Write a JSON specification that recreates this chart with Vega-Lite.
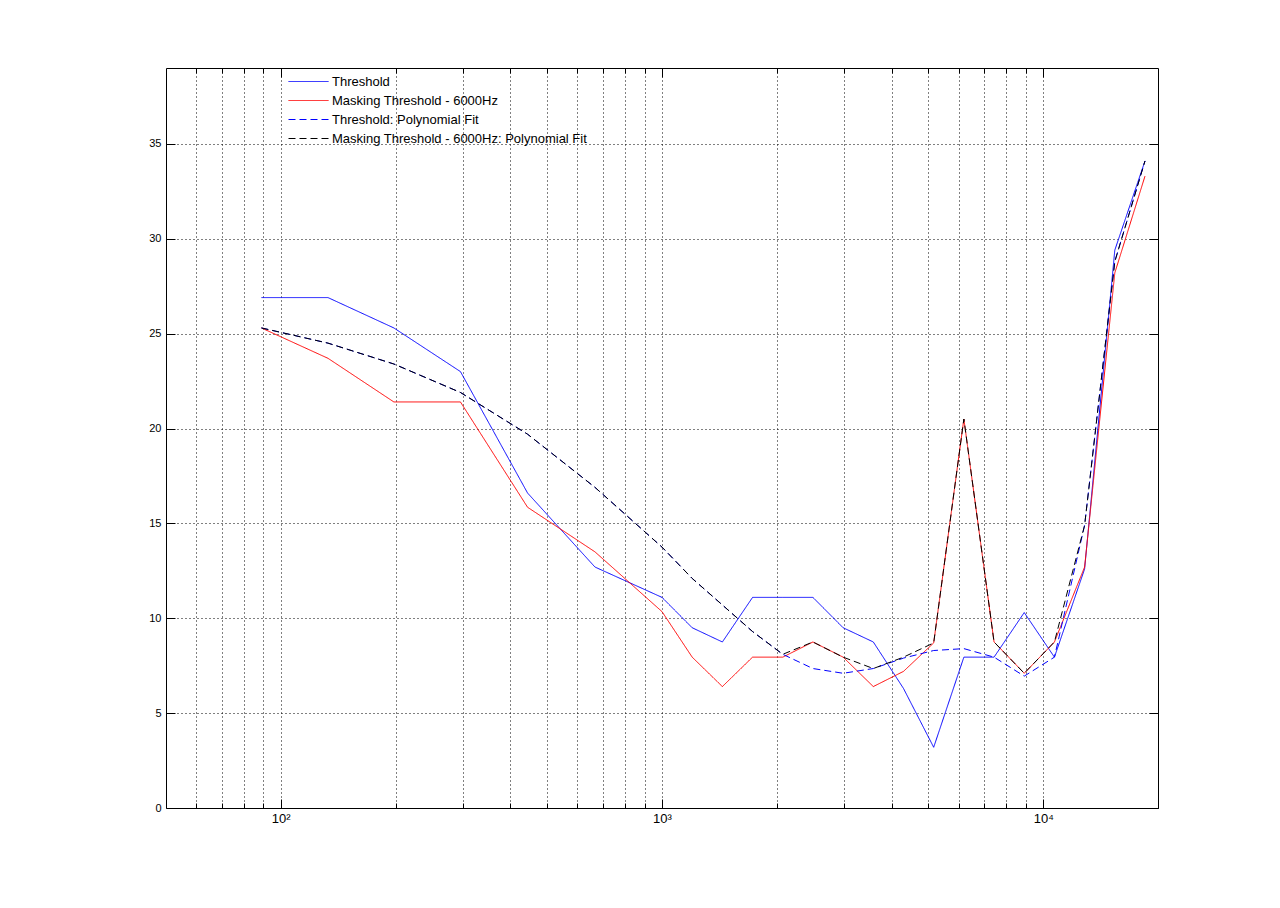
{
  "$schema": "https://vega.github.io/schema/vega-lite/v6.json",
  "width": 992,
  "height": 740,
  "autosize": {"type": "none"},
  "padding": {"left": 166, "top": 68, "right": 122, "bottom": 100},
  "background": "white",
  "config": {
    "view": {"stroke": "black", "strokeWidth": 1},
    "font": "Liberation Sans",
    "axis": {
      "domain": false,
      "labelFont": "Liberation Sans",
      "labelFontSize": 11,
      "labelColor": "black",
      "tickColor": "black",
      "tickWidth": 1,
      "gridColor": "black",
      "gridDash": [1, 3],
      "gridOpacity": 1,
      "title": null
    }
  },
  "data": {
    "values": [
      {"freq": 89, "series": "Threshold", "value": 26.9},
      {"freq": 133, "series": "Threshold", "value": 26.9},
      {"freq": 198, "series": "Threshold", "value": 25.3},
      {"freq": 296, "series": "Threshold", "value": 23.0},
      {"freq": 444, "series": "Threshold", "value": 16.6},
      {"freq": 667, "series": "Threshold", "value": 12.7},
      {"freq": 1000, "series": "Threshold", "value": 11.1},
      {"freq": 1200, "series": "Threshold", "value": 9.5},
      {"freq": 1440, "series": "Threshold", "value": 8.75},
      {"freq": 1728, "series": "Threshold", "value": 11.1},
      {"freq": 2074, "series": "Threshold", "value": 11.1},
      {"freq": 2488, "series": "Threshold", "value": 11.1},
      {"freq": 2986, "series": "Threshold", "value": 9.5},
      {"freq": 3583, "series": "Threshold", "value": 8.75},
      {"freq": 4300, "series": "Threshold", "value": 6.3},
      {"freq": 5160, "series": "Threshold", "value": 3.2},
      {"freq": 6192, "series": "Threshold", "value": 7.95},
      {"freq": 7430, "series": "Threshold", "value": 7.95},
      {"freq": 8916, "series": "Threshold", "value": 10.3},
      {"freq": 10699, "series": "Threshold", "value": 7.95},
      {"freq": 12839, "series": "Threshold", "value": 12.6},
      {"freq": 15407, "series": "Threshold", "value": 29.4},
      {"freq": 18488, "series": "Threshold", "value": 34.1},

      {"freq": 89, "series": "Masking Threshold - 6000Hz", "value": 25.3},
      {"freq": 133, "series": "Masking Threshold - 6000Hz", "value": 23.7},
      {"freq": 198, "series": "Masking Threshold - 6000Hz", "value": 21.4},
      {"freq": 296, "series": "Masking Threshold - 6000Hz", "value": 21.4},
      {"freq": 444, "series": "Masking Threshold - 6000Hz", "value": 15.85},
      {"freq": 667, "series": "Masking Threshold - 6000Hz", "value": 13.5},
      {"freq": 1000, "series": "Masking Threshold - 6000Hz", "value": 10.35},
      {"freq": 1200, "series": "Masking Threshold - 6000Hz", "value": 7.95},
      {"freq": 1440, "series": "Masking Threshold - 6000Hz", "value": 6.4},
      {"freq": 1728, "series": "Masking Threshold - 6000Hz", "value": 7.95},
      {"freq": 2074, "series": "Masking Threshold - 6000Hz", "value": 7.95},
      {"freq": 2488, "series": "Masking Threshold - 6000Hz", "value": 8.75},
      {"freq": 2986, "series": "Masking Threshold - 6000Hz", "value": 7.95},
      {"freq": 3583, "series": "Masking Threshold - 6000Hz", "value": 6.4},
      {"freq": 4300, "series": "Masking Threshold - 6000Hz", "value": 7.2},
      {"freq": 5160, "series": "Masking Threshold - 6000Hz", "value": 8.7},
      {"freq": 6192, "series": "Masking Threshold - 6000Hz", "value": 20.5},
      {"freq": 7430, "series": "Masking Threshold - 6000Hz", "value": 8.75},
      {"freq": 8916, "series": "Masking Threshold - 6000Hz", "value": 7.1},
      {"freq": 10699, "series": "Masking Threshold - 6000Hz", "value": 8.75},
      {"freq": 12839, "series": "Masking Threshold - 6000Hz", "value": 12.7},
      {"freq": 15407, "series": "Masking Threshold - 6000Hz", "value": 28.2},
      {"freq": 18488, "series": "Masking Threshold - 6000Hz", "value": 33.3},

      {"freq": 89, "series": "Threshold: Polynomial Fit", "value": 25.3},
      {"freq": 133, "series": "Threshold: Polynomial Fit", "value": 24.5},
      {"freq": 198, "series": "Threshold: Polynomial Fit", "value": 23.4},
      {"freq": 296, "series": "Threshold: Polynomial Fit", "value": 21.9},
      {"freq": 444, "series": "Threshold: Polynomial Fit", "value": 19.7},
      {"freq": 667, "series": "Threshold: Polynomial Fit", "value": 16.9},
      {"freq": 1000, "series": "Threshold: Polynomial Fit", "value": 13.75},
      {"freq": 1200, "series": "Threshold: Polynomial Fit", "value": 12.1},
      {"freq": 1440, "series": "Threshold: Polynomial Fit", "value": 10.7},
      {"freq": 1728, "series": "Threshold: Polynomial Fit", "value": 9.3},
      {"freq": 2074, "series": "Threshold: Polynomial Fit", "value": 8.1},
      {"freq": 2488, "series": "Threshold: Polynomial Fit", "value": 7.35},
      {"freq": 2986, "series": "Threshold: Polynomial Fit", "value": 7.1},
      {"freq": 3583, "series": "Threshold: Polynomial Fit", "value": 7.35},
      {"freq": 4300, "series": "Threshold: Polynomial Fit", "value": 7.9},
      {"freq": 5160, "series": "Threshold: Polynomial Fit", "value": 8.3},
      {"freq": 6192, "series": "Threshold: Polynomial Fit", "value": 8.4},
      {"freq": 7430, "series": "Threshold: Polynomial Fit", "value": 7.95},
      {"freq": 8916, "series": "Threshold: Polynomial Fit", "value": 6.95},
      {"freq": 10699, "series": "Threshold: Polynomial Fit", "value": 7.95},
      {"freq": 12839, "series": "Threshold: Polynomial Fit", "value": 14.9},
      {"freq": 15407, "series": "Threshold: Polynomial Fit", "value": 28.8},
      {"freq": 18488, "series": "Threshold: Polynomial Fit", "value": 34.1},

      {"freq": 89, "series": "Masking Threshold - 6000Hz: Polynomial Fit", "value": 25.3},
      {"freq": 133, "series": "Masking Threshold - 6000Hz: Polynomial Fit", "value": 24.5},
      {"freq": 198, "series": "Masking Threshold - 6000Hz: Polynomial Fit", "value": 23.4},
      {"freq": 296, "series": "Masking Threshold - 6000Hz: Polynomial Fit", "value": 21.9},
      {"freq": 444, "series": "Masking Threshold - 6000Hz: Polynomial Fit", "value": 19.7},
      {"freq": 667, "series": "Masking Threshold - 6000Hz: Polynomial Fit", "value": 16.9},
      {"freq": 1000, "series": "Masking Threshold - 6000Hz: Polynomial Fit", "value": 13.75},
      {"freq": 1200, "series": "Masking Threshold - 6000Hz: Polynomial Fit", "value": 12.1},
      {"freq": 1440, "series": "Masking Threshold - 6000Hz: Polynomial Fit", "value": 10.7},
      {"freq": 1728, "series": "Masking Threshold - 6000Hz: Polynomial Fit", "value": 9.3},
      {"freq": 2074, "series": "Masking Threshold - 6000Hz: Polynomial Fit", "value": 8.1},
      {"freq": 2488, "series": "Masking Threshold - 6000Hz: Polynomial Fit", "value": 8.75},
      {"freq": 2986, "series": "Masking Threshold - 6000Hz: Polynomial Fit", "value": 7.95},
      {"freq": 3583, "series": "Masking Threshold - 6000Hz: Polynomial Fit", "value": 7.35},
      {"freq": 4300, "series": "Masking Threshold - 6000Hz: Polynomial Fit", "value": 7.95},
      {"freq": 5160, "series": "Masking Threshold - 6000Hz: Polynomial Fit", "value": 8.7},
      {"freq": 6192, "series": "Masking Threshold - 6000Hz: Polynomial Fit", "value": 20.5},
      {"freq": 7430, "series": "Masking Threshold - 6000Hz: Polynomial Fit", "value": 8.75},
      {"freq": 8916, "series": "Masking Threshold - 6000Hz: Polynomial Fit", "value": 7.1},
      {"freq": 10699, "series": "Masking Threshold - 6000Hz: Polynomial Fit", "value": 8.75},
      {"freq": 12839, "series": "Masking Threshold - 6000Hz: Polynomial Fit", "value": 14.9},
      {"freq": 15407, "series": "Masking Threshold - 6000Hz: Polynomial Fit", "value": 28.8},
      {"freq": 18488, "series": "Masking Threshold - 6000Hz: Polynomial Fit", "value": 34.1}
    ]
  },
  "layer": [
    {
      "mark": {"type": "line", "strokeWidth": 1, "opacity": 0},
      "encoding": {
        "x": {
          "field": "freq", "type": "quantitative",
          "scale": {"type": "log", "domain": [50, 20000], "nice": false},
          "axis": {
            "orient": "bottom",
            "values": [60, 70, 80, 90, 100, 200, 300, 400, 500, 600, 700, 800, 900, 1000, 2000, 3000, 4000, 5000, 6000, 7000, 8000, 9000, 10000],
            "labels": false, "tickSize": -5, "grid": true
          }
        },
        "y": {
          "field": "value", "type": "quantitative",
          "scale": {"domain": [0, 39], "nice": false, "zero": false},
          "axis": {
            "orient": "right",
            "values": [0, 5, 10, 15, 20, 25, 30, 35],
            "labels": false, "tickSize": -9, "grid": true
          }
        }
      }
    },
    {
      "mark": {"type": "line", "strokeWidth": 1, "opacity": 0},
      "encoding": {
        "x": {
          "field": "freq", "type": "quantitative",
          "axis": {
            "orient": "top",
            "values": [60, 70, 80, 90, 200, 300, 400, 500, 600, 700, 800, 900, 2000, 3000, 4000, 5000, 6000, 7000, 8000, 9000],
            "labels": false, "tickSize": -5, "grid": false
          }
        },
        "y": {"field": "value", "type": "quantitative", "axis": null}
      }
    },
    {
      "mark": {"type": "line", "strokeWidth": 1, "opacity": 0},
      "encoding": {
        "x": {
          "field": "freq", "type": "quantitative",
          "axis": {
            "orient": "top",
            "values": [100, 1000, 10000],
            "labels": false, "tickSize": -9, "grid": false
          }
        },
        "y": {"field": "value", "type": "quantitative", "axis": null}
      }
    },
    {
      "mark": {"type": "line", "strokeWidth": 1},
      "encoding": {
        "x": {
          "field": "freq", "type": "quantitative",
          "axis": {
            "orient": "bottom",
            "values": [100, 1000, 10000],
            "tickSize": -9, "grid": false, "labelPadding": 13, "labelFontSize": 13,
            "labelExpr": "datum.value == 100 ? '10²' : datum.value == 1000 ? '10³' : '10⁴'"
          }
        },
        "y": {
          "field": "value", "type": "quantitative",
          "axis": {
            "orient": "left",
            "values": [0, 5, 10, 15, 20, 25, 30, 35],
            "tickSize": -9, "grid": false, "labelPadding": 14
          }
        },
        "color": {
          "field": "series", "type": "nominal",
          "scale": {
            "domain": ["Threshold", "Masking Threshold - 6000Hz", "Threshold: Polynomial Fit", "Masking Threshold - 6000Hz: Polynomial Fit"],
            "range": ["#0000ff", "#ff0000", "#0000ff", "#000000"]
          },
          "legend": {
            "orient": "none", "legendX": 122, "legendY": 4, "title": null,
            "symbolType": "stroke", "symbolSize": 1600, "symbolStrokeWidth": 1,
            "labelFont": "Liberation Sans", "labelFontSize": 13, "labelColor": "black",
            "labelOffset": 3, "rowPadding": 0, "clipHeight": 19, "padding": 0, "labelLimit": 400
          }
        },
        "strokeDash": {
          "field": "series", "type": "nominal",
          "scale": {
            "domain": ["Threshold", "Masking Threshold - 6000Hz", "Threshold: Polynomial Fit", "Masking Threshold - 6000Hz: Polynomial Fit"],
            "range": [[1, 0], [1, 0], [7, 4], [7, 4]]
          },
          "legend": {
            "orient": "none", "legendX": 122, "legendY": 4, "title": null,
            "symbolType": "stroke", "symbolSize": 1600, "symbolStrokeWidth": 1,
            "labelFont": "Liberation Sans", "labelFontSize": 13, "labelColor": "black",
            "labelOffset": 3, "rowPadding": 0, "clipHeight": 19, "padding": 0, "labelLimit": 400
          }
        }
      }
    }
  ],
  "resolve": {"axis": {"x": "independent", "y": "independent"}}
}
